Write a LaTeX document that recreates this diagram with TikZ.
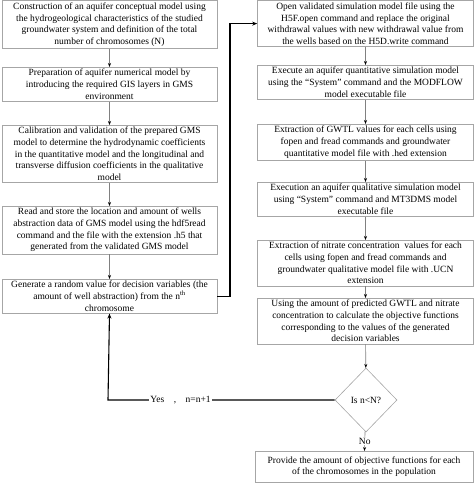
\documentclass[tikz,border=0pt]{standalone}
\usepackage{fontspec}
\setmainfont{Liberation Serif}
\usetikzlibrary{positioning, arrows.meta, shapes.geometric}

\begin{document}
\begin{tikzpicture}[
		x=1pt, y=-1pt,
		every block/.style={draw=gray!70, line width=0.6pt, align=center, inner ysep=2pt, inner xsep=1pt,
			font=\fontsize{9.5}{11.6}\selectfont, anchor=north},
		block left/.style={minimum width=215pt},
		block right/.style={minimum width=216pt},
		decision/.style={diamond, draw=gray!70, line width=0.6pt, minimum width=62pt, minimum height=64pt,
			inner sep=0pt, font=\fontsize{9.5}{11.6}\selectfont},
		flow/.style={draw=gray, line width=0.6pt, -{Stealth[length=4pt, width=3pt, color=black]}},
		loop/.style={draw=black, line width=1.1pt, -{Stealth[length=5pt, width=4pt]}},
		>=Stealth
	]

	\useasboundingbox (0,0) rectangle (474,484);

	% left column
	\node [every block, block left] (left-1) at (109.5, 0.5) {Construction of an aquifer conceptual model using\\ the hydrogeological characteristics of the studied\\ groundwater system and definition of the total\\ number of chromosomes (N)};
	\node [every block, block left] (left-2) at (109.5, 67) {Preparation of aquifer numerical model by\\ introducing the required GIS layers in GMS\\ environment};
	\node [every block, block left] (left-3) at (109.5, 125) {Calibration and validation of the prepared GMS\\ model to determine the hydrodynamic coefficients\\ in the quantitative model and the longitudinal and\\ transverse diffusion coefficients in the qualitative\\ model};
	\node [every block, block left] (left-4) at (109.5, 206) {Read and store the location and amount of wells\\ abstraction data of GMS model using the hdf5read\\ command and the file with the extension .h5 that\\ generated from the validated GMS model};
	\node [every block, block left] (left-5) at (109.5, 279) {Generate a random value for decision variables (the\\ amount of well abstraction) from the n\textsuperscript{th}\\ chromosome};

	% right column
	\node [every block, block right] (right-1) at (365.5, 0.5) {Open validated simulation model file using the\\ H5F.open command and replace the original\\ withdrawal values with new withdrawal value from\\ the wells based on the H5D.write command};
	\node [every block, block right] (right-2) at (365.5, 65) {Execute an aquifer quantitative simulation model\\ using the “System” command and the MODFLOW\\ model executable file};
	\node [every block, block right] (right-3) at (365.5, 124) {Extraction of GWTL values for each cells using\\ fopen and fread commands and groundwater\\ quantitative model file with .hed extension};
	\node [every block, block right] (right-4) at (365.5, 182) {Execution an aquifer qualitative simulation model\\ using “System” command and MT3DMS model\\ executable file};
	\node [every block, block right] (right-5) at (365.5, 240) {Extraction of nitrate concentration\ \ values for each\\ cells using fopen and fread commands and\\ groundwater qualitative model file with .UCN\\ extension};
	\node [every block, block right] (right-6) at (365.5, 298) {Using the amount of predicted GWTL and nitrate\\ concentration to calculate the objective functions\\ corresponding to the values of the generated\\ decision variables};

	\node [decision] (check) at (366, 400) {Is n<N?};
	\node [every block, minimum width=218pt, minimum height=31pt] (result) at (364, 451) {Provide the amount of objective functions for each\\ of the chromosomes in the population};

	% arrows inside the columns
	\foreach \i [count=\j from 2] in {1, ..., 4}
		\draw [flow] (left-\i) -- (left-\j);

	\foreach \i [count=\j from 2] in {1, ..., 5}
		\draw [flow] (right-\i) -- (right-\j);

	\draw [flow] (right-6) -- (check);
	\draw [flow] (check) -- (result) node [midway, fill=white, inner sep=1pt, font=\fontsize{9.5}{11.6}\selectfont] {No};

	% jump to the right column and the loop back
	\coordinate (bus) at (230, 160);
	\coordinate (back) at (108, 400);
	\draw [loop] (left-5.east) -| (bus) |- (right-1.west);
	\draw [loop] (check.west) -- node [pos=0.68, fill=white, inner sep=1.5pt, font=\fontsize{9.5}{11.6}\selectfont] {Yes\quad,\quad n=n+1} (back) -- (left-5.south);
\end{tikzpicture}
\end{document}
